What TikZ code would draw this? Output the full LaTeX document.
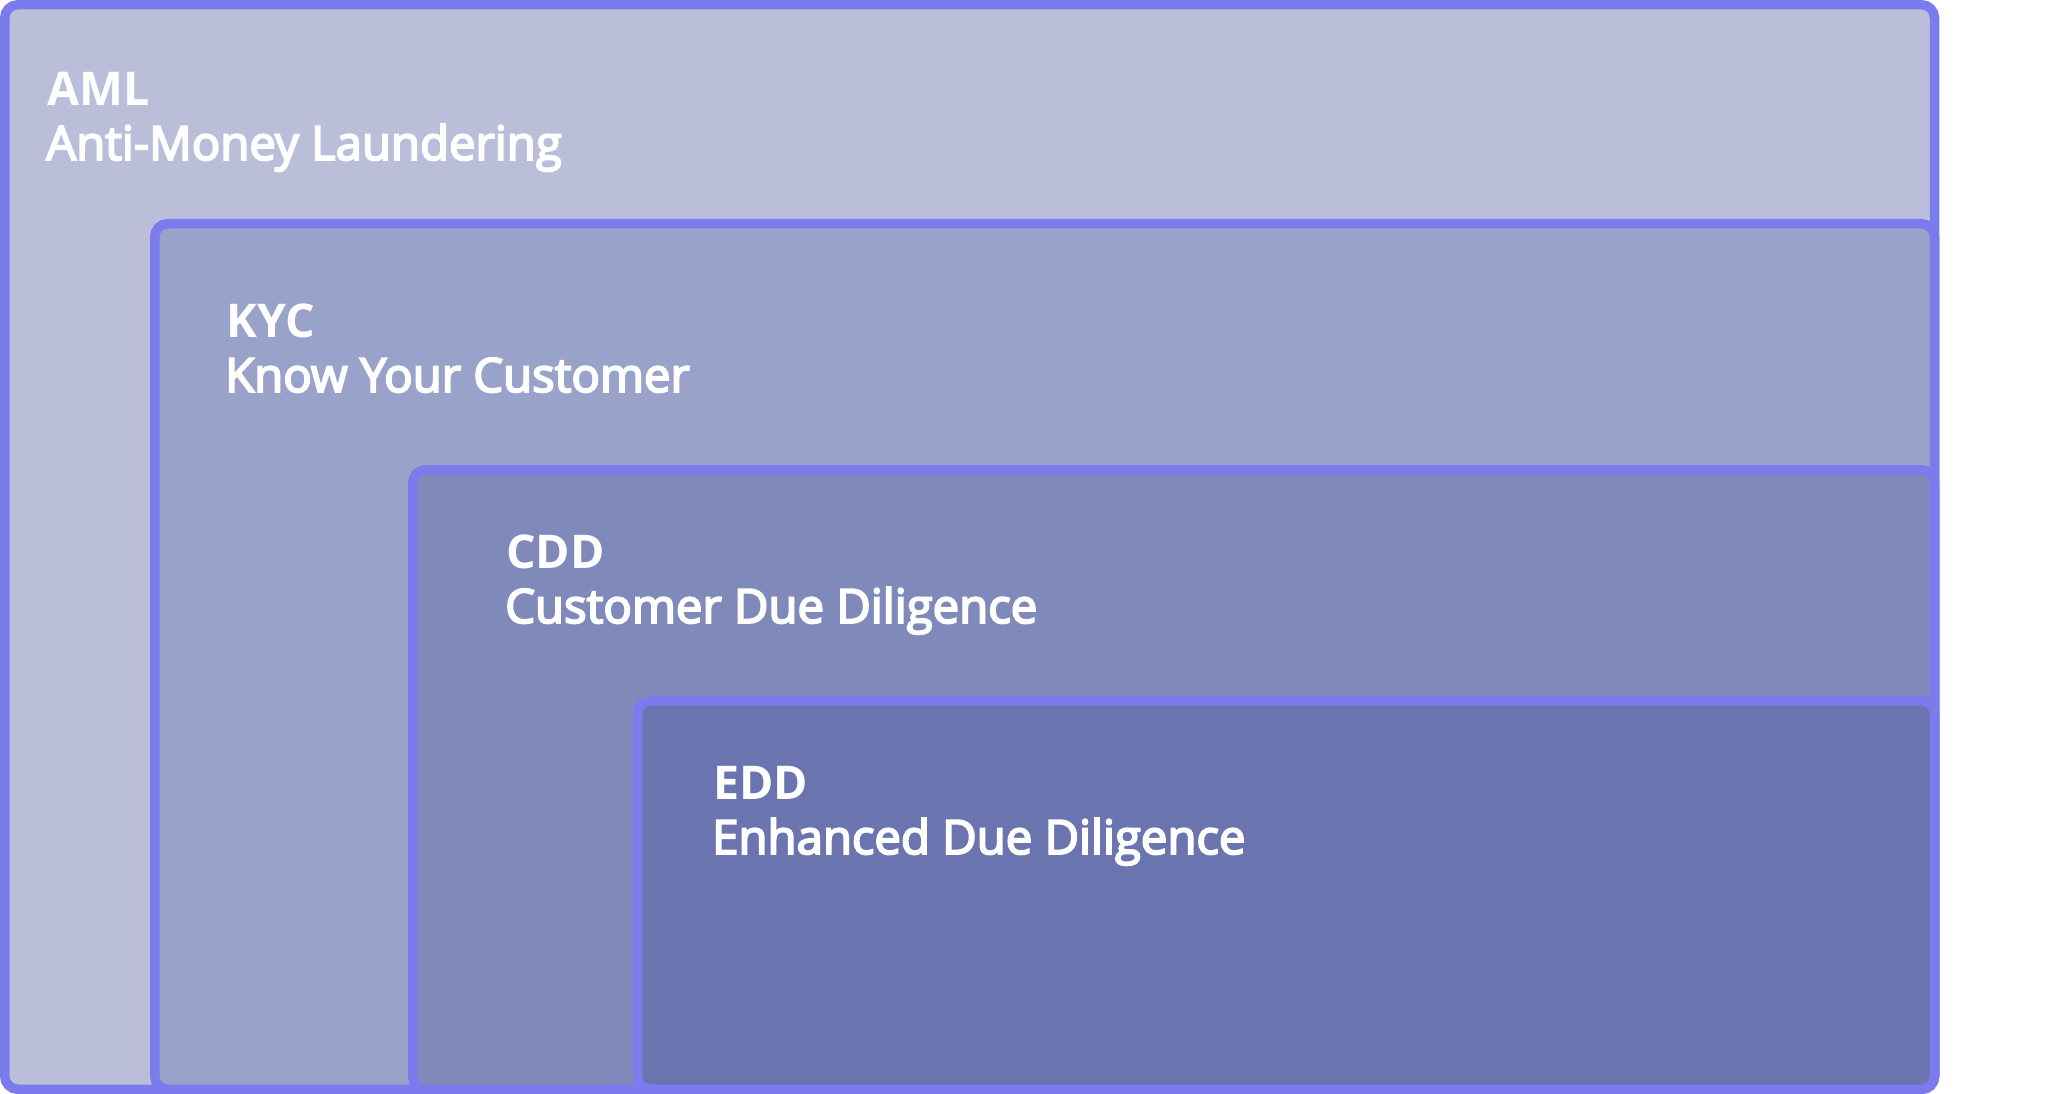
\documentclass[tikz,border=0pt]{standalone}
\usepackage{fontspec}
\setmainfont{Open Sans}
\newfontfamily\subfont[FakeBold=4]{Open Sans}
\definecolor{edge}{HTML}{7B7BEE}
\definecolor{amlfill}{HTML}{BABED9}
\definecolor{kycfill}{HTML}{99A2C8}
\definecolor{cddfill}{HTML}{7F8ABB}
\definecolor{eddfill}{HTML}{6A75B0}
\tikzset{
  layer/.style={draw=edge, line width=9.5pt, rounded corners=13pt},
  head/.style={anchor=base west, inner sep=0pt, text=white, font=\bfseries\fontsize{46.5}{55}\selectfont},
  sub/.style={anchor=base west, inner sep=0pt, text=white, font=\subfont\fontsize{47.3}{55}\selectfont}
}
\begin{document}
\begin{tikzpicture}[x=1pt,y=-1pt]
  \useasboundingbox (0,0) rectangle (2048,1094);
  % nested layers, outside in
  \draw[layer, fill=amlfill] (4.75,4.75) rectangle (1934.5,1089.25);
  \draw[layer, fill=kycfill] (154.75,223.75) rectangle (1934.5,1089.25);
  \draw[layer, fill=cddfill] (412.75,469.75) rectangle (1934.5,1089.25);
  \draw[layer, fill=eddfill] (637.5,700.75) rectangle (1934.5,1089.25);
  % labels
  \node[head] (aml) at (47,106) {AML};
  \node[sub] (amlSub) at (46,160) {Anti-Money Laundering};
  \node[head] (kyc) at (226,337) {KYC};
  \node[sub] (kycSub) at (225,392) {Know Your Customer};
  \node[head] (cdd) at (506,568) {CDD};
  \node[sub] (cddSub) at (505,623) {Customer Due Diligence};
  \node[head] (edd) at (713,799) {EDD};
  \node[sub] (eddSub) at (712,854) {Enhanced Due Diligence};
\end{tikzpicture}
\end{document}
